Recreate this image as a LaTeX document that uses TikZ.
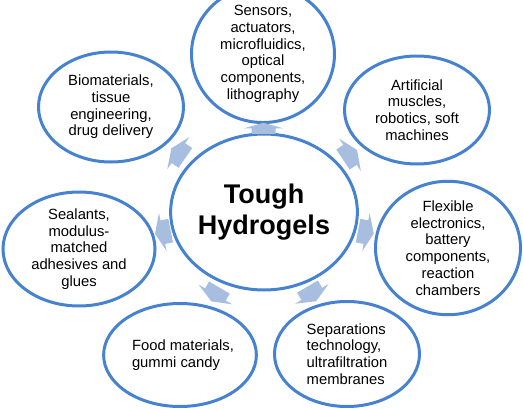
\documentclass[tikz,border=0pt]{standalone}
\usepackage{fontspec}
\setmainfont{Liberation Sans}
\usepackage{tikz}
\usetikzlibrary{positioning}
\usetikzlibrary{calc}
\usetikzlibrary{shapes.geometric}
\definecolor{ringblue}{RGB}{70,130,208}
\definecolor{spokeblue}{RGB}{168,190,224}
\tikzset{
  core/.style={shape=ellipse,draw=ringblue,line width=3pt,fill=white,
    minimum width=169pt,minimum height=156pt,inner sep=0pt,align=center,
    font=\fontsize{27}{31}\selectfont\bfseries},
  field/.style={shape=ellipse,draw=ringblue,line width=3pt,fill=white,
    minimum width=145pt,minimum height=107pt,inner sep=0pt,align=center,
    font=\fontsize{14.8}{16.7}\selectfont},
  spoke/.style={fill=spokeblue,draw=none}
}

\begin{document}
\begin{tikzpicture}[x=1pt,y=-1pt]
    \useasboundingbox (0,0) rectangle (523,410);
    \node[core] (hub) at (264,212) {Tough\\Hydrogels};
    \node[field,minimum width=143pt,minimum height=103pt] (sens) at (263,54)
      {Sensors,\\actuators,\\microfluidics,\\optical\\components,\\lithography};
    \node[field,minimum height=110pt] (bio) at (111,107)
      {Biomaterials,\\tissue\\engineering,\\drug delivery};
    \node[field,minimum height=108pt] (art) at (417,110)
      {Artificial\\muscles,\\robotics, soft\\machines};
    \node[field,minimum width=152pt,minimum height=109pt] (seal) at (79,249)
      {Sealants,\\modulus-\\matched\\adhesives and\\glues};
    \node[field] (flex) at (448,248)
      {Flexible\\electronics,\\battery\\components,\\reaction\\chambers};
    \node[field,minimum width=144pt,minimum height=103pt,align=left] (food) at (180,355)
      {\hspace*{6pt}Food materials,\\\hspace*{6pt}gummi candy};
    \node[field,minimum height=105pt,align=left] (sep) at (347,354)
      {Separations\\technology,\\ultrafiltration\\membranes};
    % block arrows in the gaps
    \foreach \s/\a/\b/\l in {sens/90/270/11,art/33.7/213.7/17,flex/348.9/168.9/16,
        sep/300.3/120.3/17,food/239.6/59.6/16,seal/191.3/11.3/16,bio/145.5/325.5/17} {
      \coordinate (to\s) at ($(hub.\a)!.5!(\s.\b)$);
      \fill[spoke,shift={(to\s)},rotate=\a]
        (-\l/2,-12) -- (0,-12) -- (0,-19.5) -- (\l/2,0)
        -- (0,19.5) -- (0,12) -- (-\l/2,12) -- cycle;
    }
  \end{tikzpicture}
\end{document}
